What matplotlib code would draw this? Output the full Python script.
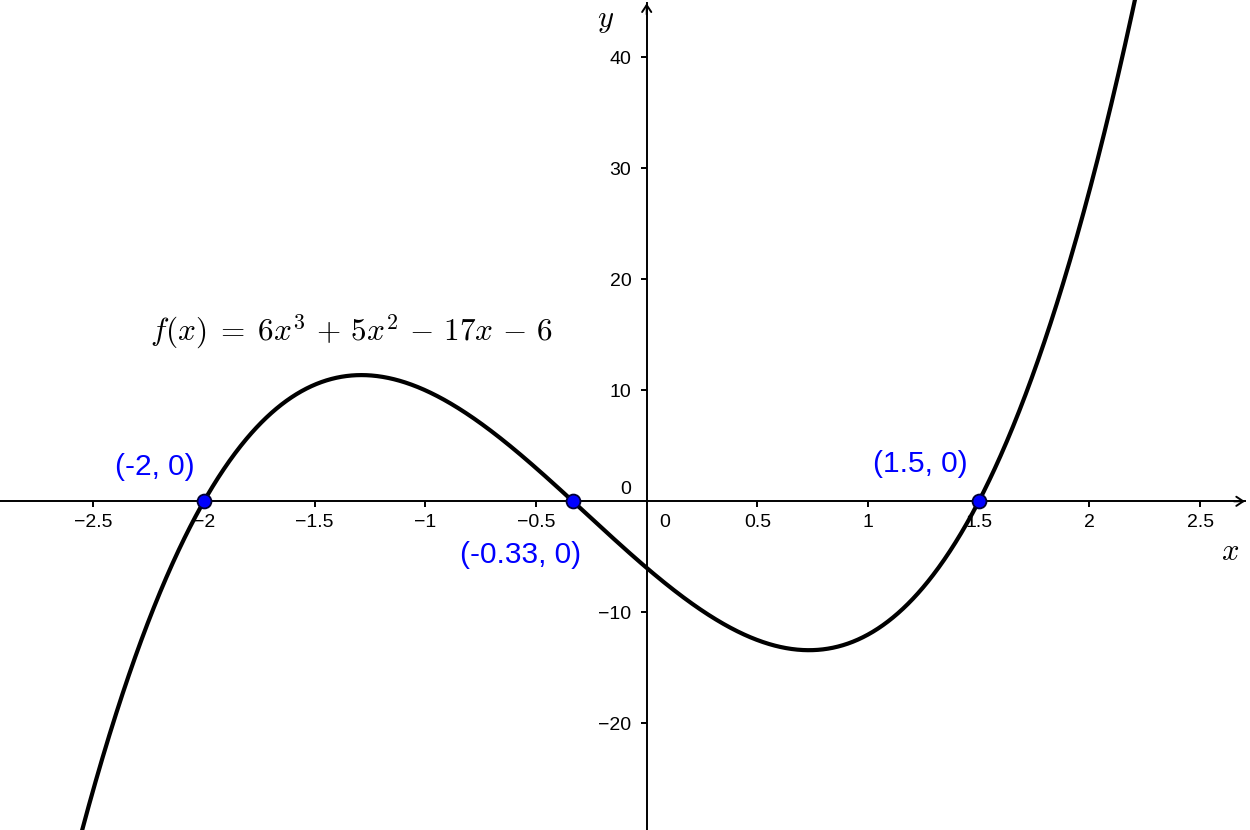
import numpy as np
import matplotlib
matplotlib.use('Agg')
import matplotlib.pyplot as plt

# polynomial coefficients of f(x) = 6x^3 + 5x^2 - 17x - 6
coeffs = [6, 5, -17, -6]
root_x = [-2.0, -1/3, 1.5]
root_labels = ['(-2, 0)', '(-0.33, 0)', '(1.5, 0)']
x_ticks = [-2.5, -2, -1.5, -1, -0.5, 0.5, 1, 1.5, 2, 2.5]
x_tick_labels = ['−2.5', '−2', '−1.5', '−1', '−0.5', '0.5', '1', '1.5', '2', '2.5']
y_ticks = [-20, -10, 10, 20, 30, 40]
y_tick_labels = ['−20', '−10', '10', '20', '30', '40']

plt.rcParams['font.family'] = ['Liberation Sans', 'DejaVu Sans']
plt.rcParams['mathtext.fontset'] = 'cm'

fig = plt.figure(figsize=(12.5, 8.3), dpi=100)
ax = fig.add_axes([0, 0, 1, 1])
xmin, xmax = -2.921, 2.725
ymin, ymax = -29.61, 45.16
ax.set_xlim(xmin, xmax)
ax.set_ylim(ymin, ymax)

xs = np.linspace(xmin, xmax, 2000)
ax.plot(xs, np.polyval(coeffs, xs), color='black', lw=3, zorder=3)

# axes
for s in ['top', 'right']:
    ax.spines[s].set_visible(False)
ax.spines['left'].set_position(('data', 0))
ax.spines['bottom'].set_position(('data', 0))
ax.spines['left'].set_linewidth(1.4)
ax.spines['bottom'].set_linewidth(1.4)
xtip = xmin + (xmax - xmin) * 0.996
ytip = ymin + (ymax - ymin) * 0.996
ax.spines['bottom'].set_bounds(xmin, xtip)
ax.spines['left'].set_bounds(ymin, ytip)
ax.annotate('', xy=(xtip, 0), xytext=(xtip - 0.05, 0),
            arrowprops=dict(arrowstyle='->,head_length=0.5,head_width=0.33', lw=1.4, color='black',
                            shrinkA=0, shrinkB=0), zorder=2)
ax.annotate('', xy=(0, ytip), xytext=(0, ytip - 1.0),
            arrowprops=dict(arrowstyle='->,head_length=0.5,head_width=0.33', lw=1.4, color='black',
                            shrinkA=0, shrinkB=0), zorder=2)

ax.set_xticks(x_ticks)
ax.set_xticklabels(x_tick_labels)
ax.set_yticks(y_ticks)
ax.set_yticklabels(y_tick_labels)
ax.tick_params(direction='out', length=4, width=1.4, labelsize=14, colors='black')
ax.tick_params(axis='x', pad=5)
ax.tick_params(axis='y', pad=7)

ax.annotate('0', xy=(0, 0), xytext=(-15.0, 8.6), textcoords='offset points',
            ha='center', va='center', fontsize=14)
ax.annotate('0', xy=(0, 0), xytext=(13.0, -15.5), textcoords='offset points',
            ha='center', va='center', fontsize=14)

# roots
ax.plot(root_x, [0] * len(root_x), 'o', color='#0000ff', markeredgecolor='#000033',
        markersize=10, markeredgewidth=1.3, zorder=4)
offsets = [(-49, 34), (-52, -54), (-58, 37)]
for rx, lab, (dx, dy) in zip(root_x, root_labels, offsets):
    ax.annotate(lab, xy=(rx, 0), xytext=(dx * 0.72, dy * 0.72), textcoords='offset points',
                ha='center', va='center', fontsize=21.5, color='#0000ff')

ax.text(-1.331, 15.25, r'$f(x)\;=\;6x^3\,+\,5x^2\,-\,17x\,-\,6$', ha='center', va='center', fontsize=22.5)
ax.text(-0.188, 43.36, r'$y$', ha='center', va='center', fontsize=22)
ax.text(2.634, -4.57, r'$x$', ha='center', va='center', fontsize=22)

fig.savefig('out.png', dpi=100)
